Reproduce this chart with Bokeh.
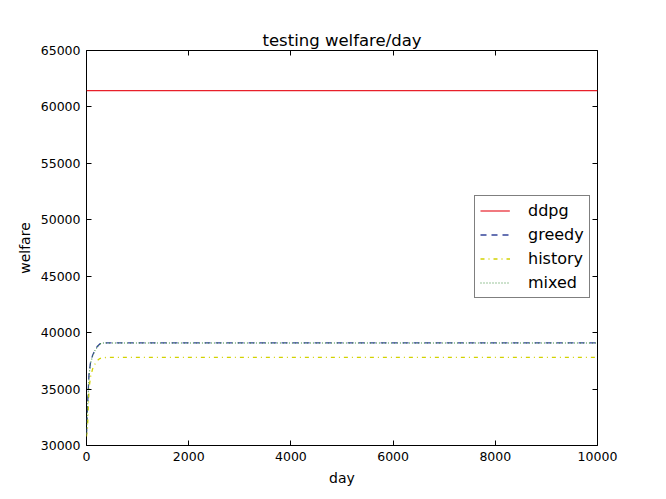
from bokeh.plotting import figure
from bokeh.models import LinearAxis, Range1d, Legend, LegendItem, FixedTicker
from bokeh.embed import file_html
from bokeh.resources import INLINE

days_ddpg = [0, 10000]
ddpg = [61450, 61450]

days = [0, 20, 50, 80, 120, 170, 215, 260, 310, 400, 10000]
greedy = [31000, 33500, 36400, 37400, 38000, 38500, 38800, 39000, 39100, 39100, 39100]
mixed = [31000, 33300, 36200, 37300, 37950, 38450, 38750, 38980, 39080, 39080, 39080]
history = [30800, 31600, 35100, 36100, 36800, 37250, 37530, 37700, 37780, 37800, 37800]

x_ticks = [0, 2000, 4000, 6000, 8000, 10000]
y_ticks = [30000, 35000, 40000, 45000, 50000, 55000, 60000, 65000]

FONT = "DejaVu Sans"

p = figure(width=650, height=483, output_backend="svg", toolbar_location=None,
           x_range=Range1d(0, 10000), y_range=Range1d(30000, 65000),
           min_border_left=86, min_border_right=53, min_border_top=50, min_border_bottom=38)
p.frame_width = 511
p.frame_height = 395
p.grid.visible = False
p.outline_line_color = "black"
p.outline_line_width = 1
p.background_fill_color = "white"
p.border_fill_color = "white"

p.title.text = "testing welfare/day"
p.title.align = "center"
p.title.text_font = FONT
p.title.text_font_size = "16.5px"
p.title.text_font_style = "normal"
p.title.text_color = "black"
p.title.offset = 0
p.title.standoff = 2

for ax in p.xaxis + p.yaxis:
    ax.major_tick_in = 5
    ax.major_tick_out = 0
    ax.minor_tick_line_color = None
    ax.axis_line_color = None
    ax.major_label_text_font = FONT
    ax.major_label_text_font_size = "12.5px"
    ax.major_label_text_color = "black"
    ax.axis_label_text_font = FONT
    ax.axis_label_text_font_size = "14px"
    ax.axis_label_text_font_style = "normal"
    ax.axis_label_text_color = "black"
    ax.major_label_standoff = 6

p.xaxis.ticker = FixedTicker(ticks=x_ticks)
p.yaxis.ticker = FixedTicker(ticks=y_ticks)
p.xaxis.axis_label = "day"
p.yaxis.axis_label = "welfare"
p.xaxis.axis_label_standoff = 6
p.yaxis.axis_label_standoff = 5

top = LinearAxis(ticker=FixedTicker(ticks=x_ticks),
                 major_label_overrides={t: "" for t in x_ticks},
                 major_tick_in=5, major_tick_out=0, minor_tick_line_color=None,
                 axis_line_color=None, major_label_standoff=0)
right = LinearAxis(ticker=FixedTicker(ticks=y_ticks),
                   major_label_overrides={t: "" for t in y_ticks},
                   major_tick_in=5, major_tick_out=0, minor_tick_line_color=None,
                   axis_line_color=None, major_label_standoff=0)
p.add_layout(top, "above")
p.add_layout(right, "right")

r1 = p.line(days_ddpg, ddpg, line_color="#e8202a", line_width=1.2)
r2 = p.line(days, greedy, line_color="#34449a", line_width=1.3, line_dash="6 5")
r3 = p.line(days, history, line_color="#d2d200", line_width=1.3, line_dash="4 4 1 4")
r4 = p.line(days, mixed, line_color="#3a8a3a", line_width=1.1, line_dash="1 2")

legend = Legend(items=[LegendItem(label="ddpg", renderers=[r1]),
                       LegendItem(label="greedy", renderers=[r2]),
                       LegendItem(label="history", renderers=[r3]),
                       LegendItem(label="mixed", renderers=[r4])],
                location=(388, 147), label_text_font=FONT, label_text_font_size="16px",
                label_text_color="black", border_line_color="black", border_line_width=1,
                glyph_width=30, glyph_height=19, label_height=19, spacing=5,
                padding=5, margin=0, label_standoff=18, background_fill_alpha=1)
p.add_layout(legend, "center")

open("out.html", "w").write(file_html(p, INLINE))
